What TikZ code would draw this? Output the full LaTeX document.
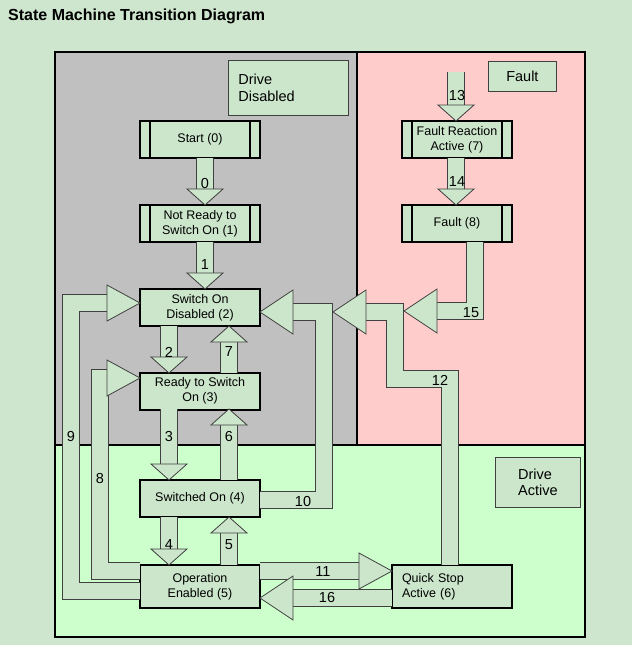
\documentclass[tikz,border=0pt]{standalone}
\usepackage{fontspec}
\setmainfont{Liberation Sans}
\definecolor{pagebg}{HTML}{CEE6CE}
\definecolor{grayz}{HTML}{C0C0C0}
\definecolor{pinkz}{HTML}{FFCCCC}
\definecolor{greenz}{HTML}{CCFFCC}
\definecolor{boxf}{HTML}{CCE6CC}
\definecolor{edge}{HTML}{404040}
\tikzset{
 box/.style={draw=black,line width=2pt,fill=boxf,minimum width=120pt,minimum height=37pt,inner sep=1pt,align=center,font=\fontsize{12.5}{15}\selectfont},
 lab/.style={draw=edge,line width=0.8pt,fill=boxf,align=left,font=\fontsize{14.5}{16.5}\selectfont,inner sep=5pt,anchor=north west},
 num/.style={font=\fontsize{14.5}{16}\selectfont,inner sep=0pt},
 hd/.style={draw=edge,line width=0.8pt,fill=boxf,line join=miter},
}
\newcommand\shaft[1]{\draw[line width=17.6pt,edge,line join=miter] #1; \draw[line width=16pt,boxf,line join=miter] #1;}
\newcommand\hD[2]{\draw[hd] (#1,#2) -- (#1-18,#2-16) -- (#1+18,#2-16) -- cycle;}
\newcommand\hU[2]{\draw[hd] (#1,#2) -- (#1-18,#2+16) -- (#1+18,#2+16) -- cycle;}
\newcommand\hR[2]{\draw[hd] (#1,#2) -- (#1-33,#2-18) -- (#1-33,#2+18) -- cycle;}
\newcommand\hL[2]{\draw[hd] (#1,#2) -- (#1+33,#2-22) -- (#1+33,#2+22) -- cycle;}
\newcommand\bars[1]{\draw[line width=2pt] ([xshift=11pt]#1.north west) -- ([xshift=11pt]#1.south west) ([xshift=-11pt]#1.north east) -- ([xshift=-11pt]#1.south east);}
\begin{document}
\begin{tikzpicture}[x=1pt,y=-1pt]
\fill[pagebg] (0,0) rectangle (632,645);
\useasboundingbox (0,0) rectangle (632,645);
\node[anchor=west,font=\bfseries\fontsize{16}{18}\selectfont,inner sep=0pt] (title) at (8,16) {State Machine Transition Diagram};
\fill[grayz] (55,52) rectangle (357,445);
\fill[pinkz] (357,52) rectangle (585,445);
\fill[greenz] (55,445) rectangle (585,637);
\draw[line width=2pt] (55,52) rectangle (585,637) (357,52) -- (357,445) (55,445) -- (585,445);
\node[lab,minimum width=120pt,minimum height=55pt,text width=100pt] (ldis) at (228,60) {Drive\\Disabled};
\node[lab,minimum width=68pt,minimum height=30pt] (lfault) at (488,61) {Fault};
\node[lab,minimum width=85pt,minimum height=50pt] (lact) at (495,457) {Drive\\Active};
% boxes
\node[box] (s0) at (200,139.5) {Start (0)};
\node[box] (s1) at (200,223.5) {Not Ready to\\Switch On (1)};
\node[box] (s2) at (200,307.5) {Switch On\\Disabled (2)};
\node[box] (s3) at (200,391) {Ready to Switch\\On (3)};
\node[box] (s4) at (200,498.5) {Switched On (4)};
\node[box,minimum height=43pt] (s5) at (200,586.5) {Operation\\Enabled (5)};
\node[box,minimum height=43pt,align=left,text width=100pt] (s6) at (452,586.5) {Quick Stop\\Active (6)};
\node[box,minimum width=110pt] (s7) at (457,139.5) {Fault Reaction\\Active (7)};
\node[box,minimum width=110pt] (s8) at (457,223.5) {Fault (8)};
\bars{s0}\bars{s1}\bars{s7}\bars{s8}
% arrows
\shaft{(205,158) -- (205,189)}\hD{205}{205}
\shaft{(205,242) -- (205,273)}\hD{205}{289}
\shaft{(456,72) -- (456,105)}\hD{456}{121}
\shaft{(456,158) -- (456,189)}\hD{456}{205}
\shaft{(169,326) -- (169,357)}\hD{169}{373}
\shaft{(229,373) -- (229,342)}\hU{229}{326}
\shaft{(169,409) -- (169,464)}\hD{169}{480}
\shaft{(229,480) -- (229,425)}\hU{229}{409}
\shaft{(169,517) -- (169,549)}\hD{169}{565}
\shaft{(229,565) -- (229,533)}\hU{229}{517}
\shaft{(140,591) -- (71,591) -- (71,303) -- (107,303)}\hR{140}{303}
\shaft{(140,571) -- (100,571) -- (100,378) -- (107,378)}\hR{140}{378}
\shaft{(260,500) -- (324,500) -- (324,312) -- (293,312)}\hL{260}{312}
\shaft{(450,565) -- (450,379) -- (395,379) -- (395,312) -- (366,312)}\hL{333}{312}
\shaft{(475,242) -- (475,311) -- (437,311)}\hL{404}{311}
\shaft{(260,571) -- (359,571)}\hR{392}{571}
\shaft{(392,598) -- (293,598)}\hL{260}{598}
% numbers
\node[num] (n0) at (205,184) {0};
\node[num] (n1) at (205,265) {1};
\node[num] (n13) at (457,96) {13};
\node[num] (n14) at (457,182) {14};
\node[num] (n2) at (169,352) {2};
\node[num] (n7) at (229,352) {7};
\node[num] (n3) at (169,437) {3};
\node[num] (n6) at (229,437) {6};
\node[num] (n4) at (169,545) {4};
\node[num] (n5) at (229,545) {5};
\node[num] (n9) at (71,437) {9};
\node[num] (n8) at (100,479) {8};
\node[num] (n10) at (303,502) {10};
\node[num] (n12) at (440,380) {12};
\node[num] (n15) at (471,313) {15};
\node[num] (n11) at (323,572) {11};
\node[num] (n16) at (327,598) {16};
\end{tikzpicture}
\end{document}
